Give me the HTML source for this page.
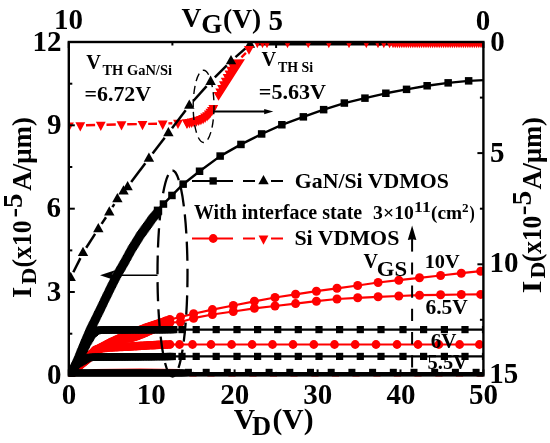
<!DOCTYPE html>
<html><head><meta charset="utf-8"><style>
html,body{margin:0;padding:0;background:#fff;}
svg{display:block;}
</style></head><body>
<svg width="550" height="443" viewBox="0 0 550 443">
<rect width="550" height="443" fill="#fff"/>
<defs><clipPath id="pc"><rect x="68.8" y="42.0" width="414.59999999999997" height="334.4"/></clipPath></defs>
<g clip-path="url(#pc)">
<line x1="86.0" y1="125.3" x2="95.1" y2="125.0" stroke="#f00" stroke-width="2.4"/>
<line x1="106.5" y1="124.8" x2="115.8" y2="124.5" stroke="#f00" stroke-width="2.4"/>
<line x1="127.2" y1="124.3" x2="136.8" y2="124.1" stroke="#f00" stroke-width="2.4"/>
<line x1="148.2" y1="123.9" x2="157.0" y2="123.8" stroke="#f00" stroke-width="2.4"/>
<line x1="168.4" y1="123.4" x2="172.3" y2="123.2" stroke="#f00" stroke-width="2.4"/>
<polygon points="64.1,122.5 73.9,122.5 69.0,131.8" fill="#f00"/>
<polygon points="75.4,122.3 85.2,122.3 80.3,131.6" fill="#f00"/>
<polygon points="95.9,121.8 105.7,121.8 100.8,131.1" fill="#f00"/>
<polygon points="116.6,121.3 126.4,121.3 121.5,130.6" fill="#f00"/>
<polygon points="137.6,120.9 147.4,120.9 142.5,130.2" fill="#f00"/>
<polygon points="157.8,120.6 167.6,120.6 162.7,129.9" fill="#f00"/>
<polygon points="173.1,119.8 182.9,119.8 178.0,129.1" fill="#f00"/>
<polygon points="182.1,119.5 191.9,119.5 187.0,128.8" fill="#f00"/>
<polygon points="182.1,119.5 191.9,119.5 187.0,128.8" fill="#f00"/>
<polygon points="184.5,119.1 194.3,119.1 189.4,128.4" fill="#f00"/>
<polygon points="186.8,118.6 196.6,118.6 191.7,127.9" fill="#f00"/>
<polygon points="189.2,118.1 199.0,118.1 194.1,127.4" fill="#f00"/>
<polygon points="191.5,117.4 201.3,117.4 196.4,126.7" fill="#f00"/>
<polygon points="193.8,116.7 203.6,116.7 198.7,126.0" fill="#f00"/>
<polygon points="196.0,115.9 205.8,115.9 200.9,125.2" fill="#f00"/>
<polygon points="198.2,114.9 208.0,114.9 203.1,124.2" fill="#f00"/>
<polygon points="200.2,113.6 210.0,113.6 205.1,122.9" fill="#f00"/>
<polygon points="202.2,112.3 212.0,112.3 207.1,121.6" fill="#f00"/>
<polygon points="203.9,110.6 213.7,110.6 208.8,119.9" fill="#f00"/>
<polygon points="205.5,108.8 215.3,108.8 210.4,118.1" fill="#f00"/>
<polygon points="207.0,106.9 216.8,106.9 211.9,116.2" fill="#f00"/>
<polygon points="208.4,105.0 218.2,105.0 213.3,114.3" fill="#f00"/>
<polygon points="245.0,59.2 218.5,100.8 213.5,92.1 217.2,92.1 215.3,88.5 219.1,88.5 217.2,84.9 220.9,84.9 219.0,81.3 222.7,81.3 220.8,77.7 224.6,77.7 222.7,74.0 226.4,74.0 224.5,70.4 228.2,70.4 226.3,66.8 230.1,66.8 228.2,63.2 231.9,63.2 230.0,59.6" fill="#f00"/>
<line x1="63.2" y1="289.9" x2="67.5" y2="282.8" stroke="#000" stroke-width="2.5"/>
<line x1="73.3" y1="272.3" x2="80.4" y2="258.1" stroke="#000" stroke-width="2.5"/>
<line x1="86.2" y1="247.7" x2="95.1" y2="233.9" stroke="#000" stroke-width="2.5"/>
<line x1="101.6" y1="223.9" x2="106.0" y2="217.2" stroke="#000" stroke-width="2.5"/>
<line x1="112.4" y1="207.1" x2="114.3" y2="204.1" stroke="#000" stroke-width="2.5"/>
<line x1="131.2" y1="182.1" x2="145.3" y2="163.2" stroke="#000" stroke-width="2.5"/>
<line x1="152.6" y1="153.6" x2="164.7" y2="137.8" stroke="#000" stroke-width="2.5"/>
<line x1="172.0" y1="128.2" x2="185.7" y2="110.3" stroke="#000" stroke-width="2.5"/>
<line x1="193.3" y1="101.0" x2="206.6" y2="86.1" stroke="#000" stroke-width="2.5"/>
<line x1="214.8" y1="77.3" x2="226.8" y2="65.3" stroke="#000" stroke-width="2.5"/>
<line x1="235.5" y1="57.1" x2="245.5" y2="48.4" stroke="#000" stroke-width="2.5"/>
<line x1="256" y1="44.2" x2="490" y2="44.2" stroke="#000" stroke-width="2.7"/>
<polygon points="65.5,281.0 75.9,281.0 70.7,271.7" fill="#000"/>
<polygon points="77.8,256.0 88.2,256.0 83.0,246.7" fill="#000"/>
<polygon points="93.1,232.2 103.5,232.2 98.3,222.9" fill="#000"/>
<polygon points="104.1,215.5 114.5,215.5 109.3,206.2" fill="#000"/>
<polygon points="112.2,202.3 122.6,202.3 117.4,193.0" fill="#000"/>
<polygon points="118.3,194.6 128.7,194.6 123.5,185.3" fill="#000"/>
<polygon points="122.4,190.2 132.8,190.2 127.6,180.9" fill="#000"/>
<polygon points="143.7,161.7 154.1,161.7 148.9,152.4" fill="#000"/>
<polygon points="163.2,136.3 173.6,136.3 168.4,127.0" fill="#000"/>
<polygon points="184.1,108.8 194.5,108.8 189.3,99.5" fill="#000"/>
<polygon points="205.4,84.9 215.8,84.9 210.6,75.6" fill="#000"/>
<polygon points="225.8,64.3 236.2,64.3 231.0,55.0" fill="#000"/>
<polygon points="244.8,47.8 255.2,47.8 250.0,38.5" fill="#000"/>
<polygon points="252.6,38.9 262.0,38.9 257.3,48.2" fill="#f00"/>
<polygon points="257.8,38.9 267.2,38.9 262.5,48.2" fill="#f00"/>
<polygon points="262.3,38.9 271.7,38.9 267.0,48.2" fill="#f00"/>
<polygon points="282.8,38.9 292.2,38.9 287.5,48.2" fill="#f00"/>
<polygon points="303.5,38.9 312.9,38.9 308.2,48.2" fill="#f00"/>
<polygon points="324.1,38.9 333.5,38.9 328.8,48.2" fill="#f00"/>
<polygon points="344.3,38.9 353.7,38.9 349.0,48.2" fill="#f00"/>
<polygon points="361.6,38.9 371.0,38.9 366.3,48.2" fill="#f00"/>
<polygon points="373.3,38.9 382.7,38.9 378.0,48.2" fill="#f00"/>
<polygon points="379.1,38.9 388.5,38.9 383.8,48.2" fill="#f00"/>
<polygon points="384.9,38.9 394.3,38.9 389.6,48.2" fill="#f00"/>
<polygon points="388.3,38.9 397.7,38.9 393.0,48.2" fill="#f00"/>
<polygon points="390.5,38.9 399.9,38.9 395.2,48.2" fill="#f00"/>
<polygon points="392.7,38.9 402.1,38.9 397.4,48.2" fill="#f00"/>
<polygon points="394.9,38.9 404.3,38.9 399.6,48.2" fill="#f00"/>
<polygon points="397.1,38.9 406.5,38.9 401.8,48.2" fill="#f00"/>
<polygon points="399.3,38.9 408.7,38.9 404.0,48.2" fill="#f00"/>
<polygon points="401.5,38.9 410.9,38.9 406.2,48.2" fill="#f00"/>
<polygon points="403.7,38.9 413.1,38.9 408.4,48.2" fill="#f00"/>
<polygon points="405.9,38.9 415.3,38.9 410.6,48.2" fill="#f00"/>
<polygon points="408.1,38.9 417.5,38.9 412.8,48.2" fill="#f00"/>
<polygon points="410.3,38.9 419.7,38.9 415.0,48.2" fill="#f00"/>
<polygon points="412.5,38.9 421.9,38.9 417.2,48.2" fill="#f00"/>
<polygon points="414.7,38.9 424.1,38.9 419.4,48.2" fill="#f00"/>
<polygon points="416.9,38.9 426.3,38.9 421.6,48.2" fill="#f00"/>
<polygon points="419.1,38.9 428.5,38.9 423.8,48.2" fill="#f00"/>
<polygon points="421.3,38.9 430.7,38.9 426.0,48.2" fill="#f00"/>
<polygon points="423.5,38.9 432.9,38.9 428.2,48.2" fill="#f00"/>
<polygon points="425.7,38.9 435.1,38.9 430.4,48.2" fill="#f00"/>
<polygon points="427.9,38.9 437.3,38.9 432.6,48.2" fill="#f00"/>
<polygon points="430.1,38.9 439.5,38.9 434.8,48.2" fill="#f00"/>
<polygon points="432.3,38.9 441.7,38.9 437.0,48.2" fill="#f00"/>
<polygon points="434.5,38.9 443.9,38.9 439.2,48.2" fill="#f00"/>
<polygon points="436.7,38.9 446.1,38.9 441.4,48.2" fill="#f00"/>
<polygon points="438.9,38.9 448.3,38.9 443.6,48.2" fill="#f00"/>
<polygon points="441.1,38.9 450.5,38.9 445.8,48.2" fill="#f00"/>
<polygon points="443.3,38.9 452.7,38.9 448.0,48.2" fill="#f00"/>
<polygon points="445.5,38.9 454.9,38.9 450.2,48.2" fill="#f00"/>
<polygon points="447.7,38.9 457.1,38.9 452.4,48.2" fill="#f00"/>
<polygon points="449.9,38.9 459.3,38.9 454.6,48.2" fill="#f00"/>
<polygon points="452.1,38.9 461.5,38.9 456.8,48.2" fill="#f00"/>
<polygon points="454.3,38.9 463.7,38.9 459.0,48.2" fill="#f00"/>
<polygon points="456.5,38.9 465.9,38.9 461.2,48.2" fill="#f00"/>
<polygon points="458.7,38.9 468.1,38.9 463.4,48.2" fill="#f00"/>
<polygon points="460.9,38.9 470.3,38.9 465.6,48.2" fill="#f00"/>
<polygon points="463.1,38.9 472.5,38.9 467.8,48.2" fill="#f00"/>
<polygon points="465.3,38.9 474.7,38.9 470.0,48.2" fill="#f00"/>
<polygon points="467.5,38.9 476.9,38.9 472.2,48.2" fill="#f00"/>
<polygon points="469.7,38.9 479.1,38.9 474.4,48.2" fill="#f00"/>
<polygon points="471.9,38.9 481.3,38.9 476.6,48.2" fill="#f00"/>
<polygon points="474.1,38.9 483.5,38.9 478.8,48.2" fill="#f00"/>
<polygon points="476.3,38.9 485.7,38.9 481.0,48.2" fill="#f00"/>
<polygon points="478.5,38.9 487.9,38.9 483.2,48.2" fill="#f00"/>
<polygon points="480.7,38.9 490.1,38.9 485.4,48.2" fill="#f00"/>
<line x1="241.4" y1="57.4" x2="245.9" y2="52.8" stroke="#f00" stroke-width="2.4"/>
<polygon points="244.0,46.0 254.0,46.0 249.0,54.8" fill="#f00"/>
<rect x="66.8" y="372.4" width="7.2" height="7.2" fill="#000"/>
<rect x="67.4" y="371.1" width="7.2" height="7.2" fill="#000"/>
<rect x="67.9" y="369.8" width="7.2" height="7.2" fill="#000"/>
<rect x="68.5" y="368.6" width="7.2" height="7.2" fill="#000"/>
<rect x="69.1" y="367.3" width="7.2" height="7.2" fill="#000"/>
<rect x="69.7" y="366.0" width="7.2" height="7.2" fill="#000"/>
<rect x="70.2" y="364.7" width="7.2" height="7.2" fill="#000"/>
<rect x="70.8" y="363.5" width="7.2" height="7.2" fill="#000"/>
<rect x="71.4" y="362.2" width="7.2" height="7.2" fill="#000"/>
<rect x="72.0" y="360.9" width="7.2" height="7.2" fill="#000"/>
<rect x="72.5" y="359.6" width="7.2" height="7.2" fill="#000"/>
<rect x="73.1" y="358.4" width="7.2" height="7.2" fill="#000"/>
<rect x="73.7" y="357.1" width="7.2" height="7.2" fill="#000"/>
<rect x="74.2" y="355.8" width="7.2" height="7.2" fill="#000"/>
<rect x="74.8" y="354.5" width="7.2" height="7.2" fill="#000"/>
<rect x="75.3" y="353.2" width="7.2" height="7.2" fill="#000"/>
<rect x="75.8" y="351.9" width="7.2" height="7.2" fill="#000"/>
<rect x="76.3" y="350.6" width="7.2" height="7.2" fill="#000"/>
<rect x="76.8" y="349.3" width="7.2" height="7.2" fill="#000"/>
<rect x="77.4" y="348.0" width="7.2" height="7.2" fill="#000"/>
<rect x="77.9" y="346.7" width="7.2" height="7.2" fill="#000"/>
<rect x="78.4" y="345.4" width="7.2" height="7.2" fill="#000"/>
<rect x="79.0" y="344.1" width="7.2" height="7.2" fill="#000"/>
<rect x="79.5" y="342.8" width="7.2" height="7.2" fill="#000"/>
<rect x="80.0" y="341.5" width="7.2" height="7.2" fill="#000"/>
<rect x="80.6" y="340.2" width="7.2" height="7.2" fill="#000"/>
<rect x="81.1" y="338.9" width="7.2" height="7.2" fill="#000"/>
<rect x="81.7" y="337.7" width="7.2" height="7.2" fill="#000"/>
<rect x="82.2" y="336.4" width="7.2" height="7.2" fill="#000"/>
<rect x="82.8" y="335.1" width="7.2" height="7.2" fill="#000"/>
<rect x="83.3" y="333.8" width="7.2" height="7.2" fill="#000"/>
<rect x="83.9" y="332.5" width="7.2" height="7.2" fill="#000"/>
<rect x="84.4" y="331.2" width="7.2" height="7.2" fill="#000"/>
<rect x="85.0" y="329.9" width="7.2" height="7.2" fill="#000"/>
<rect x="85.5" y="328.6" width="7.2" height="7.2" fill="#000"/>
<rect x="86.1" y="327.4" width="7.2" height="7.2" fill="#000"/>
<rect x="86.7" y="326.1" width="7.2" height="7.2" fill="#000"/>
<rect x="87.3" y="324.8" width="7.2" height="7.2" fill="#000"/>
<rect x="87.9" y="323.6" width="7.2" height="7.2" fill="#000"/>
<rect x="88.5" y="322.3" width="7.2" height="7.2" fill="#000"/>
<rect x="89.2" y="321.1" width="7.2" height="7.2" fill="#000"/>
<rect x="89.8" y="319.8" width="7.2" height="7.2" fill="#000"/>
<rect x="90.4" y="318.6" width="7.2" height="7.2" fill="#000"/>
<rect x="91.0" y="317.3" width="7.2" height="7.2" fill="#000"/>
<rect x="91.7" y="316.1" width="7.2" height="7.2" fill="#000"/>
<rect x="92.3" y="314.8" width="7.2" height="7.2" fill="#000"/>
<rect x="92.9" y="313.5" width="7.2" height="7.2" fill="#000"/>
<rect x="93.5" y="312.3" width="7.2" height="7.2" fill="#000"/>
<rect x="94.1" y="311.0" width="7.2" height="7.2" fill="#000"/>
<rect x="94.7" y="309.8" width="7.2" height="7.2" fill="#000"/>
<rect x="95.3" y="308.5" width="7.2" height="7.2" fill="#000"/>
<rect x="96.0" y="307.3" width="7.2" height="7.2" fill="#000"/>
<rect x="96.6" y="306.0" width="7.2" height="7.2" fill="#000"/>
<rect x="97.2" y="304.7" width="7.2" height="7.2" fill="#000"/>
<rect x="97.8" y="303.5" width="7.2" height="7.2" fill="#000"/>
<rect x="98.4" y="302.2" width="7.2" height="7.2" fill="#000"/>
<rect x="99.0" y="301.0" width="7.2" height="7.2" fill="#000"/>
<rect x="99.6" y="299.7" width="7.2" height="7.2" fill="#000"/>
<rect x="100.2" y="298.4" width="7.2" height="7.2" fill="#000"/>
<rect x="100.8" y="297.2" width="7.2" height="7.2" fill="#000"/>
<rect x="101.4" y="295.9" width="7.2" height="7.2" fill="#000"/>
<rect x="102.0" y="294.6" width="7.2" height="7.2" fill="#000"/>
<rect x="102.6" y="293.4" width="7.2" height="7.2" fill="#000"/>
<rect x="103.3" y="292.1" width="7.2" height="7.2" fill="#000"/>
<rect x="103.9" y="290.9" width="7.2" height="7.2" fill="#000"/>
<rect x="104.5" y="289.6" width="7.2" height="7.2" fill="#000"/>
<rect x="105.1" y="288.3" width="7.2" height="7.2" fill="#000"/>
<rect x="105.7" y="287.1" width="7.2" height="7.2" fill="#000"/>
<rect x="106.3" y="285.8" width="7.2" height="7.2" fill="#000"/>
<rect x="106.9" y="284.6" width="7.2" height="7.2" fill="#000"/>
<rect x="107.5" y="283.3" width="7.2" height="7.2" fill="#000"/>
<rect x="108.2" y="282.1" width="7.2" height="7.2" fill="#000"/>
<rect x="108.8" y="280.8" width="7.2" height="7.2" fill="#000"/>
<rect x="109.4" y="279.6" width="7.2" height="7.2" fill="#000"/>
<rect x="110.0" y="278.3" width="7.2" height="7.2" fill="#000"/>
<rect x="110.7" y="277.1" width="7.2" height="7.2" fill="#000"/>
<rect x="111.3" y="275.8" width="7.2" height="7.2" fill="#000"/>
<rect x="111.9" y="274.5" width="7.2" height="7.2" fill="#000"/>
<rect x="112.6" y="273.3" width="7.2" height="7.2" fill="#000"/>
<rect x="113.2" y="272.1" width="7.2" height="7.2" fill="#000"/>
<rect x="113.9" y="270.8" width="7.2" height="7.2" fill="#000"/>
<rect x="114.6" y="269.6" width="7.2" height="7.2" fill="#000"/>
<rect x="115.3" y="268.4" width="7.2" height="7.2" fill="#000"/>
<rect x="116.0" y="267.2" width="7.2" height="7.2" fill="#000"/>
<rect x="116.7" y="266.0" width="7.2" height="7.2" fill="#000"/>
<rect x="117.4" y="264.8" width="7.2" height="7.2" fill="#000"/>
<rect x="118.1" y="263.6" width="7.2" height="7.2" fill="#000"/>
<rect x="118.8" y="262.4" width="7.2" height="7.2" fill="#000"/>
<rect x="119.5" y="261.1" width="7.2" height="7.2" fill="#000"/>
<rect x="120.2" y="259.9" width="7.2" height="7.2" fill="#000"/>
<rect x="120.9" y="258.7" width="7.2" height="7.2" fill="#000"/>
<rect x="121.6" y="257.5" width="7.2" height="7.2" fill="#000"/>
<rect x="122.3" y="256.3" width="7.2" height="7.2" fill="#000"/>
<rect x="122.9" y="255.0" width="7.2" height="7.2" fill="#000"/>
<rect x="123.6" y="253.8" width="7.2" height="7.2" fill="#000"/>
<rect x="124.3" y="252.6" width="7.2" height="7.2" fill="#000"/>
<rect x="124.9" y="251.3" width="7.2" height="7.2" fill="#000"/>
<rect x="125.6" y="250.1" width="7.2" height="7.2" fill="#000"/>
<rect x="126.3" y="248.9" width="7.2" height="7.2" fill="#000"/>
<rect x="126.9" y="247.7" width="7.2" height="7.2" fill="#000"/>
<rect x="127.6" y="246.4" width="7.2" height="7.2" fill="#000"/>
<rect x="128.3" y="245.2" width="7.2" height="7.2" fill="#000"/>
<rect x="129.1" y="244.0" width="7.2" height="7.2" fill="#000"/>
<rect x="129.8" y="242.8" width="7.2" height="7.2" fill="#000"/>
<rect x="130.5" y="241.7" width="7.2" height="7.2" fill="#000"/>
<rect x="131.3" y="240.5" width="7.2" height="7.2" fill="#000"/>
<rect x="132.0" y="239.3" width="7.2" height="7.2" fill="#000"/>
<rect x="132.8" y="238.1" width="7.2" height="7.2" fill="#000"/>
<rect x="133.5" y="236.9" width="7.2" height="7.2" fill="#000"/>
<rect x="134.2" y="235.7" width="7.2" height="7.2" fill="#000"/>
<rect x="135.0" y="234.5" width="7.2" height="7.2" fill="#000"/>
<rect x="135.7" y="233.3" width="7.2" height="7.2" fill="#000"/>
<rect x="136.4" y="232.1" width="7.2" height="7.2" fill="#000"/>
<rect x="137.2" y="231.0" width="7.2" height="7.2" fill="#000"/>
<rect x="138.0" y="229.8" width="7.2" height="7.2" fill="#000"/>
<rect x="138.9" y="228.7" width="7.2" height="7.2" fill="#000"/>
<rect x="139.7" y="227.6" width="7.2" height="7.2" fill="#000"/>
<rect x="140.5" y="226.4" width="7.2" height="7.2" fill="#000"/>
<rect x="141.3" y="225.3" width="7.2" height="7.2" fill="#000"/>
<rect x="142.1" y="224.2" width="7.2" height="7.2" fill="#000"/>
<rect x="143.0" y="223.0" width="7.2" height="7.2" fill="#000"/>
<rect x="143.8" y="221.9" width="7.2" height="7.2" fill="#000"/>
<rect x="144.6" y="220.8" width="7.2" height="7.2" fill="#000"/>
<rect x="145.4" y="219.6" width="7.2" height="7.2" fill="#000"/>
<rect x="146.2" y="218.5" width="7.2" height="7.2" fill="#000"/>
<rect x="147.0" y="217.3" width="7.2" height="7.2" fill="#000"/>
<rect x="147.8" y="216.2" width="7.2" height="7.2" fill="#000"/>
<rect x="148.6" y="215.1" width="7.2" height="7.2" fill="#000"/>
<rect x="149.5" y="214.0" width="7.2" height="7.2" fill="#000"/>
<rect x="150.4" y="212.9" width="7.2" height="7.2" fill="#000"/>
<rect x="151.4" y="211.8" width="7.2" height="7.2" fill="#000"/>
<rect x="152.3" y="210.8" width="7.2" height="7.2" fill="#000"/>
<rect x="153.2" y="209.7" width="7.2" height="7.2" fill="#000"/>
<rect x="154.1" y="208.6" width="7.2" height="7.2" fill="#000"/>
<rect x="155.0" y="207.6" width="7.2" height="7.2" fill="#000"/>
<polyline points="157.6,210.3 163.4,204.1 172.0,195.4 183.2,184.2 199.6,171.3 220.2,156.1 241.0,144.4 261.6,134.0 281.8,124.8 303.3,116.9 323.7,109.7 344.4,103.1 365.0,98.2 385.9,93.3 406.5,89.4 427.1,85.8 448.1,82.9 468.7,80.9 489.0,79.9" fill="none" stroke="#000" stroke-width="2.4" stroke-linejoin="round" />
<rect x="153.8" y="206.6" width="7.5" height="7.5" fill="#000"/>
<rect x="159.7" y="200.3" width="7.5" height="7.5" fill="#000"/>
<rect x="168.2" y="191.7" width="7.5" height="7.5" fill="#000"/>
<rect x="179.4" y="180.4" width="7.5" height="7.5" fill="#000"/>
<rect x="195.8" y="167.5" width="7.5" height="7.5" fill="#000"/>
<rect x="216.4" y="152.3" width="7.5" height="7.5" fill="#000"/>
<rect x="237.2" y="140.7" width="7.5" height="7.5" fill="#000"/>
<rect x="257.9" y="130.2" width="7.5" height="7.5" fill="#000"/>
<rect x="278.1" y="121.0" width="7.5" height="7.5" fill="#000"/>
<rect x="299.6" y="113.1" width="7.5" height="7.5" fill="#000"/>
<rect x="319.9" y="105.9" width="7.5" height="7.5" fill="#000"/>
<rect x="340.6" y="99.3" width="7.5" height="7.5" fill="#000"/>
<rect x="361.2" y="94.4" width="7.5" height="7.5" fill="#000"/>
<rect x="382.1" y="89.5" width="7.5" height="7.5" fill="#000"/>
<rect x="402.8" y="85.6" width="7.5" height="7.5" fill="#000"/>
<rect x="423.4" y="82.0" width="7.5" height="7.5" fill="#000"/>
<rect x="444.4" y="79.1" width="7.5" height="7.5" fill="#000"/>
<rect x="464.9" y="77.1" width="7.5" height="7.5" fill="#000"/>
<rect x="485.2" y="76.1" width="7.5" height="7.5" fill="#000"/>
<polyline points="70.0,376.0 80.0,364.5 95.0,350.7 110.0,342.5 120.0,338.0 131.0,335.0 141.5,329.3 156.0,324.3 169.8,319.5 180.5,317.0 193.6,313.7 212.4,309.6 233.3,305.5 254.4,301.3 275.0,297.5 295.6,294.3 316.4,291.2 337.0,288.3 357.7,285.5 378.1,282.5 398.8,280.2 419.5,277.8 440.6,275.5 461.3,273.2 480.7,271.2 490.0,270.2" fill="none" stroke="#f00" stroke-width="2.2" stroke-linejoin="round" />
<polyline points="70.0,376.0 80.0,365.0 95.0,351.5 110.0,343.5 120.0,339.5 134.0,337.3 145.0,333.0 156.0,328.0 169.8,322.7 180.5,322.0 193.6,318.2 212.4,314.5 233.3,311.5 254.4,308.3 275.0,306.0 295.6,303.6 316.4,301.2 337.0,299.0 357.7,297.8 378.1,296.8 398.8,296.0 419.5,295.2 440.6,294.8 461.3,294.5 480.7,294.4 490.0,294.4" fill="none" stroke="#f00" stroke-width="2.2" stroke-linejoin="round" />
<polyline points="70.0,376.0 75.0,369.6 80.0,365.4 88.8,358.2 95.0,350.0 100.0,348.5 110.0,347.5 130.0,346.5 146.0,345.5 160.0,344.8 170.0,344.5 490.0,344.5" fill="none" stroke="#f00" stroke-width="2.2" stroke-linejoin="round" />
<circle cx="70.0" cy="376.0" r="4.3" fill="#f00"/>
<circle cx="71.0" cy="374.8" r="4.3" fill="#f00"/>
<circle cx="72.1" cy="373.6" r="4.3" fill="#f00"/>
<circle cx="73.1" cy="372.4" r="4.3" fill="#f00"/>
<circle cx="74.2" cy="371.2" r="4.3" fill="#f00"/>
<circle cx="75.2" cy="370.0" r="4.3" fill="#f00"/>
<circle cx="76.3" cy="368.8" r="4.3" fill="#f00"/>
<circle cx="77.3" cy="367.5" r="4.3" fill="#f00"/>
<circle cx="78.4" cy="366.3" r="4.3" fill="#f00"/>
<circle cx="79.4" cy="365.1" r="4.3" fill="#f00"/>
<circle cx="80.6" cy="364.0" r="4.3" fill="#f00"/>
<circle cx="81.7" cy="362.9" r="4.3" fill="#f00"/>
<circle cx="82.9" cy="361.8" r="4.3" fill="#f00"/>
<circle cx="84.1" cy="360.7" r="4.3" fill="#f00"/>
<circle cx="85.3" cy="359.7" r="4.3" fill="#f00"/>
<circle cx="86.4" cy="358.6" r="4.3" fill="#f00"/>
<circle cx="87.6" cy="357.5" r="4.3" fill="#f00"/>
<circle cx="88.8" cy="356.4" r="4.3" fill="#f00"/>
<circle cx="90.0" cy="355.3" r="4.3" fill="#f00"/>
<circle cx="91.2" cy="354.2" r="4.3" fill="#f00"/>
<circle cx="92.3" cy="353.2" r="4.3" fill="#f00"/>
<circle cx="93.5" cy="352.1" r="4.3" fill="#f00"/>
<circle cx="94.7" cy="351.0" r="4.3" fill="#f00"/>
<circle cx="96.0" cy="350.1" r="4.3" fill="#f00"/>
<circle cx="97.4" cy="349.4" r="4.3" fill="#f00"/>
<circle cx="98.8" cy="348.6" r="4.3" fill="#f00"/>
<circle cx="100.2" cy="347.8" r="4.3" fill="#f00"/>
<circle cx="101.6" cy="347.1" r="4.3" fill="#f00"/>
<circle cx="103.1" cy="346.3" r="4.3" fill="#f00"/>
<circle cx="104.5" cy="345.5" r="4.3" fill="#f00"/>
<circle cx="105.9" cy="344.8" r="4.3" fill="#f00"/>
<circle cx="107.3" cy="344.0" r="4.3" fill="#f00"/>
<circle cx="108.7" cy="343.2" r="4.3" fill="#f00"/>
<circle cx="110.1" cy="342.5" r="4.3" fill="#f00"/>
<circle cx="111.5" cy="341.8" r="4.3" fill="#f00"/>
<circle cx="113.0" cy="341.2" r="4.3" fill="#f00"/>
<circle cx="114.5" cy="340.5" r="4.3" fill="#f00"/>
<circle cx="115.9" cy="339.8" r="4.3" fill="#f00"/>
<circle cx="117.4" cy="339.2" r="4.3" fill="#f00"/>
<circle cx="118.8" cy="338.5" r="4.3" fill="#f00"/>
<circle cx="120.3" cy="337.9" r="4.3" fill="#f00"/>
<circle cx="121.8" cy="337.5" r="4.3" fill="#f00"/>
<circle cx="123.4" cy="337.1" r="4.3" fill="#f00"/>
<circle cx="124.9" cy="336.7" r="4.3" fill="#f00"/>
<circle cx="126.5" cy="336.2" r="4.3" fill="#f00"/>
<circle cx="128.0" cy="335.8" r="4.3" fill="#f00"/>
<circle cx="129.6" cy="335.4" r="4.3" fill="#f00"/>
<circle cx="131.1" cy="334.9" r="4.3" fill="#f00"/>
<circle cx="132.5" cy="334.2" r="4.3" fill="#f00"/>
<circle cx="133.9" cy="333.4" r="4.3" fill="#f00"/>
<circle cx="135.3" cy="332.7" r="4.3" fill="#f00"/>
<circle cx="136.7" cy="331.9" r="4.3" fill="#f00"/>
<circle cx="138.1" cy="331.1" r="4.3" fill="#f00"/>
<circle cx="139.5" cy="330.4" r="4.3" fill="#f00"/>
<circle cx="140.9" cy="329.6" r="4.3" fill="#f00"/>
<circle cx="142.4" cy="329.0" r="4.3" fill="#f00"/>
<circle cx="143.9" cy="328.5" r="4.3" fill="#f00"/>
<circle cx="145.4" cy="327.9" r="4.3" fill="#f00"/>
<circle cx="147.0" cy="327.4" r="4.3" fill="#f00"/>
<circle cx="148.5" cy="326.9" r="4.3" fill="#f00"/>
<circle cx="150.0" cy="326.4" r="4.3" fill="#f00"/>
<circle cx="151.5" cy="325.9" r="4.3" fill="#f00"/>
<circle cx="153.0" cy="325.3" r="4.3" fill="#f00"/>
<circle cx="154.5" cy="324.8" r="4.3" fill="#f00"/>
<circle cx="156.0" cy="324.3" r="4.3" fill="#f00"/>
<circle cx="157.5" cy="323.8" r="4.3" fill="#f00"/>
<circle cx="159.1" cy="323.2" r="4.3" fill="#f00"/>
<circle cx="160.6" cy="322.7" r="4.3" fill="#f00"/>
<circle cx="162.1" cy="322.2" r="4.3" fill="#f00"/>
<circle cx="163.6" cy="321.7" r="4.3" fill="#f00"/>
<circle cx="165.1" cy="321.1" r="4.3" fill="#f00"/>
<circle cx="166.6" cy="320.6" r="4.3" fill="#f00"/>
<circle cx="70.0" cy="376.0" r="4.3" fill="#f00"/>
<circle cx="71.1" cy="374.8" r="4.3" fill="#f00"/>
<circle cx="72.2" cy="373.6" r="4.3" fill="#f00"/>
<circle cx="73.2" cy="372.4" r="4.3" fill="#f00"/>
<circle cx="74.3" cy="371.3" r="4.3" fill="#f00"/>
<circle cx="75.4" cy="370.1" r="4.3" fill="#f00"/>
<circle cx="76.5" cy="368.9" r="4.3" fill="#f00"/>
<circle cx="77.5" cy="367.7" r="4.3" fill="#f00"/>
<circle cx="78.6" cy="366.5" r="4.3" fill="#f00"/>
<circle cx="79.7" cy="365.3" r="4.3" fill="#f00"/>
<circle cx="80.8" cy="364.2" r="4.3" fill="#f00"/>
<circle cx="82.0" cy="363.2" r="4.3" fill="#f00"/>
<circle cx="83.2" cy="362.1" r="4.3" fill="#f00"/>
<circle cx="84.4" cy="361.0" r="4.3" fill="#f00"/>
<circle cx="85.6" cy="360.0" r="4.3" fill="#f00"/>
<circle cx="86.8" cy="358.9" r="4.3" fill="#f00"/>
<circle cx="88.0" cy="357.8" r="4.3" fill="#f00"/>
<circle cx="89.2" cy="356.7" r="4.3" fill="#f00"/>
<circle cx="90.4" cy="355.7" r="4.3" fill="#f00"/>
<circle cx="91.5" cy="354.6" r="4.3" fill="#f00"/>
<circle cx="92.7" cy="353.5" r="4.3" fill="#f00"/>
<circle cx="93.9" cy="352.5" r="4.3" fill="#f00"/>
<circle cx="95.1" cy="351.4" r="4.3" fill="#f00"/>
<circle cx="96.5" cy="350.7" r="4.3" fill="#f00"/>
<circle cx="98.0" cy="349.9" r="4.3" fill="#f00"/>
<circle cx="99.4" cy="349.2" r="4.3" fill="#f00"/>
<circle cx="100.8" cy="348.4" r="4.3" fill="#f00"/>
<circle cx="102.2" cy="347.7" r="4.3" fill="#f00"/>
<circle cx="103.6" cy="346.9" r="4.3" fill="#f00"/>
<circle cx="105.0" cy="346.2" r="4.3" fill="#f00"/>
<circle cx="106.4" cy="345.4" r="4.3" fill="#f00"/>
<circle cx="107.8" cy="344.7" r="4.3" fill="#f00"/>
<circle cx="109.3" cy="343.9" r="4.3" fill="#f00"/>
<circle cx="110.7" cy="343.2" r="4.3" fill="#f00"/>
<circle cx="112.2" cy="342.6" r="4.3" fill="#f00"/>
<circle cx="113.7" cy="342.0" r="4.3" fill="#f00"/>
<circle cx="115.2" cy="341.4" r="4.3" fill="#f00"/>
<circle cx="116.6" cy="340.8" r="4.3" fill="#f00"/>
<circle cx="118.1" cy="340.2" r="4.3" fill="#f00"/>
<circle cx="119.6" cy="339.7" r="4.3" fill="#f00"/>
<circle cx="121.2" cy="339.3" r="4.3" fill="#f00"/>
<circle cx="122.7" cy="339.1" r="4.3" fill="#f00"/>
<circle cx="124.3" cy="338.8" r="4.3" fill="#f00"/>
<circle cx="125.9" cy="338.6" r="4.3" fill="#f00"/>
<circle cx="127.5" cy="338.3" r="4.3" fill="#f00"/>
<circle cx="129.1" cy="338.1" r="4.3" fill="#f00"/>
<circle cx="130.7" cy="337.8" r="4.3" fill="#f00"/>
<circle cx="132.2" cy="337.6" r="4.3" fill="#f00"/>
<circle cx="133.8" cy="337.3" r="4.3" fill="#f00"/>
<circle cx="135.3" cy="336.8" r="4.3" fill="#f00"/>
<circle cx="136.8" cy="336.2" r="4.3" fill="#f00"/>
<circle cx="138.3" cy="335.6" r="4.3" fill="#f00"/>
<circle cx="139.8" cy="335.0" r="4.3" fill="#f00"/>
<circle cx="141.3" cy="334.5" r="4.3" fill="#f00"/>
<circle cx="142.8" cy="333.9" r="4.3" fill="#f00"/>
<circle cx="144.3" cy="333.3" r="4.3" fill="#f00"/>
<circle cx="145.7" cy="332.7" r="4.3" fill="#f00"/>
<circle cx="147.2" cy="332.0" r="4.3" fill="#f00"/>
<circle cx="148.6" cy="331.3" r="4.3" fill="#f00"/>
<circle cx="150.1" cy="330.7" r="4.3" fill="#f00"/>
<circle cx="151.6" cy="330.0" r="4.3" fill="#f00"/>
<circle cx="153.0" cy="329.4" r="4.3" fill="#f00"/>
<circle cx="154.5" cy="328.7" r="4.3" fill="#f00"/>
<circle cx="155.9" cy="328.0" r="4.3" fill="#f00"/>
<circle cx="157.4" cy="327.5" r="4.3" fill="#f00"/>
<circle cx="158.9" cy="326.9" r="4.3" fill="#f00"/>
<circle cx="160.4" cy="326.3" r="4.3" fill="#f00"/>
<circle cx="161.9" cy="325.7" r="4.3" fill="#f00"/>
<circle cx="163.4" cy="325.2" r="4.3" fill="#f00"/>
<circle cx="164.9" cy="324.6" r="4.3" fill="#f00"/>
<circle cx="166.4" cy="324.0" r="4.3" fill="#f00"/>
<circle cx="167.9" cy="323.4" r="4.3" fill="#f00"/>
<circle cx="70.0" cy="376.0" r="4.3" fill="#f00"/>
<circle cx="71.0" cy="374.7" r="4.3" fill="#f00"/>
<circle cx="72.0" cy="373.5" r="4.3" fill="#f00"/>
<circle cx="73.0" cy="372.2" r="4.3" fill="#f00"/>
<circle cx="73.9" cy="371.0" r="4.3" fill="#f00"/>
<circle cx="74.9" cy="369.7" r="4.3" fill="#f00"/>
<circle cx="76.1" cy="368.6" r="4.3" fill="#f00"/>
<circle cx="77.4" cy="367.6" r="4.3" fill="#f00"/>
<circle cx="78.6" cy="366.6" r="4.3" fill="#f00"/>
<circle cx="79.8" cy="365.6" r="4.3" fill="#f00"/>
<circle cx="81.0" cy="364.5" r="4.3" fill="#f00"/>
<circle cx="82.3" cy="363.5" r="4.3" fill="#f00"/>
<circle cx="83.5" cy="362.5" r="4.3" fill="#f00"/>
<circle cx="84.8" cy="361.5" r="4.3" fill="#f00"/>
<circle cx="86.0" cy="360.5" r="4.3" fill="#f00"/>
<circle cx="87.2" cy="359.5" r="4.3" fill="#f00"/>
<circle cx="88.5" cy="358.5" r="4.3" fill="#f00"/>
<circle cx="89.5" cy="357.3" r="4.3" fill="#f00"/>
<circle cx="90.5" cy="356.0" r="4.3" fill="#f00"/>
<circle cx="91.4" cy="354.7" r="4.3" fill="#f00"/>
<circle cx="92.4" cy="353.4" r="4.3" fill="#f00"/>
<circle cx="93.4" cy="352.2" r="4.3" fill="#f00"/>
<circle cx="94.3" cy="350.9" r="4.3" fill="#f00"/>
<circle cx="95.5" cy="349.9" r="4.3" fill="#f00"/>
<circle cx="97.0" cy="349.4" r="4.3" fill="#f00"/>
<circle cx="98.5" cy="348.9" r="4.3" fill="#f00"/>
<circle cx="100.1" cy="348.5" r="4.3" fill="#f00"/>
<circle cx="101.7" cy="348.3" r="4.3" fill="#f00"/>
<circle cx="103.3" cy="348.2" r="4.3" fill="#f00"/>
<circle cx="104.9" cy="348.0" r="4.3" fill="#f00"/>
<circle cx="106.4" cy="347.9" r="4.3" fill="#f00"/>
<circle cx="108.0" cy="347.7" r="4.3" fill="#f00"/>
<circle cx="109.6" cy="347.5" r="4.3" fill="#f00"/>
<circle cx="111.2" cy="347.4" r="4.3" fill="#f00"/>
<circle cx="112.8" cy="347.4" r="4.3" fill="#f00"/>
<circle cx="114.4" cy="347.3" r="4.3" fill="#f00"/>
<circle cx="116.0" cy="347.2" r="4.3" fill="#f00"/>
<circle cx="117.6" cy="347.1" r="4.3" fill="#f00"/>
<circle cx="119.2" cy="347.0" r="4.3" fill="#f00"/>
<circle cx="120.8" cy="347.0" r="4.3" fill="#f00"/>
<circle cx="122.4" cy="346.9" r="4.3" fill="#f00"/>
<circle cx="124.0" cy="346.8" r="4.3" fill="#f00"/>
<circle cx="125.6" cy="346.7" r="4.3" fill="#f00"/>
<circle cx="127.2" cy="346.6" r="4.3" fill="#f00"/>
<circle cx="128.8" cy="346.6" r="4.3" fill="#f00"/>
<circle cx="130.4" cy="346.5" r="4.3" fill="#f00"/>
<circle cx="132.0" cy="346.4" r="4.3" fill="#f00"/>
<circle cx="133.6" cy="346.3" r="4.3" fill="#f00"/>
<circle cx="135.2" cy="346.2" r="4.3" fill="#f00"/>
<circle cx="136.8" cy="346.1" r="4.3" fill="#f00"/>
<circle cx="138.4" cy="346.0" r="4.3" fill="#f00"/>
<circle cx="140.0" cy="345.9" r="4.3" fill="#f00"/>
<circle cx="141.6" cy="345.8" r="4.3" fill="#f00"/>
<circle cx="143.2" cy="345.7" r="4.3" fill="#f00"/>
<circle cx="144.8" cy="345.6" r="4.3" fill="#f00"/>
<circle cx="146.4" cy="345.5" r="4.3" fill="#f00"/>
<circle cx="148.0" cy="345.4" r="4.3" fill="#f00"/>
<circle cx="149.6" cy="345.3" r="4.3" fill="#f00"/>
<circle cx="151.2" cy="345.2" r="4.3" fill="#f00"/>
<circle cx="152.8" cy="345.2" r="4.3" fill="#f00"/>
<circle cx="154.4" cy="345.1" r="4.3" fill="#f00"/>
<circle cx="156.0" cy="345.0" r="4.3" fill="#f00"/>
<circle cx="157.6" cy="344.9" r="4.3" fill="#f00"/>
<circle cx="159.2" cy="344.8" r="4.3" fill="#f00"/>
<circle cx="160.8" cy="344.8" r="4.3" fill="#f00"/>
<circle cx="162.4" cy="344.7" r="4.3" fill="#f00"/>
<circle cx="164.0" cy="344.7" r="4.3" fill="#f00"/>
<circle cx="165.6" cy="344.6" r="4.3" fill="#f00"/>
<circle cx="167.2" cy="344.6" r="4.3" fill="#f00"/>
<circle cx="169.8" cy="319.5" r="4.5" fill="#f00"/>
<circle cx="180.5" cy="317.0" r="4.5" fill="#f00"/>
<circle cx="193.6" cy="313.7" r="4.5" fill="#f00"/>
<circle cx="212.4" cy="309.6" r="4.5" fill="#f00"/>
<circle cx="233.3" cy="305.5" r="4.5" fill="#f00"/>
<circle cx="254.4" cy="301.3" r="4.5" fill="#f00"/>
<circle cx="275.0" cy="297.5" r="4.5" fill="#f00"/>
<circle cx="295.6" cy="294.3" r="4.5" fill="#f00"/>
<circle cx="316.4" cy="291.2" r="4.5" fill="#f00"/>
<circle cx="337.0" cy="288.3" r="4.5" fill="#f00"/>
<circle cx="357.7" cy="285.5" r="4.5" fill="#f00"/>
<circle cx="378.1" cy="282.5" r="4.5" fill="#f00"/>
<circle cx="398.8" cy="280.2" r="4.5" fill="#f00"/>
<circle cx="419.5" cy="277.8" r="4.5" fill="#f00"/>
<circle cx="440.6" cy="275.5" r="4.5" fill="#f00"/>
<circle cx="461.3" cy="273.2" r="4.5" fill="#f00"/>
<circle cx="480.7" cy="271.2" r="4.5" fill="#f00"/>
<circle cx="169.8" cy="322.7" r="4.5" fill="#f00"/>
<circle cx="180.5" cy="322.0" r="4.5" fill="#f00"/>
<circle cx="193.6" cy="318.2" r="4.5" fill="#f00"/>
<circle cx="212.4" cy="314.5" r="4.5" fill="#f00"/>
<circle cx="233.3" cy="311.5" r="4.5" fill="#f00"/>
<circle cx="254.4" cy="308.3" r="4.5" fill="#f00"/>
<circle cx="275.0" cy="306.0" r="4.5" fill="#f00"/>
<circle cx="295.6" cy="303.6" r="4.5" fill="#f00"/>
<circle cx="316.4" cy="301.2" r="4.5" fill="#f00"/>
<circle cx="337.0" cy="299.0" r="4.5" fill="#f00"/>
<circle cx="357.7" cy="297.8" r="4.5" fill="#f00"/>
<circle cx="378.1" cy="296.8" r="4.5" fill="#f00"/>
<circle cx="398.8" cy="296.0" r="4.5" fill="#f00"/>
<circle cx="419.5" cy="295.2" r="4.5" fill="#f00"/>
<circle cx="440.6" cy="294.8" r="4.5" fill="#f00"/>
<circle cx="461.3" cy="294.5" r="4.5" fill="#f00"/>
<circle cx="480.7" cy="294.4" r="4.5" fill="#f00"/>
<circle cx="170.0" cy="344.5" r="4.4" fill="#f00"/>
<circle cx="179.5" cy="344.5" r="4.4" fill="#f00"/>
<circle cx="192.5" cy="344.5" r="4.4" fill="#f00"/>
<circle cx="211.0" cy="344.5" r="4.4" fill="#f00"/>
<circle cx="231.6" cy="344.5" r="4.4" fill="#f00"/>
<circle cx="252.1" cy="344.5" r="4.4" fill="#f00"/>
<circle cx="272.5" cy="344.5" r="4.4" fill="#f00"/>
<circle cx="293.0" cy="344.5" r="4.4" fill="#f00"/>
<circle cx="313.8" cy="344.5" r="4.4" fill="#f00"/>
<circle cx="334.5" cy="344.5" r="4.4" fill="#f00"/>
<circle cx="355.2" cy="344.5" r="4.4" fill="#f00"/>
<circle cx="376.0" cy="344.5" r="4.4" fill="#f00"/>
<circle cx="397.0" cy="344.5" r="4.4" fill="#f00"/>
<circle cx="418.0" cy="344.5" r="4.4" fill="#f00"/>
<circle cx="438.8" cy="344.5" r="4.4" fill="#f00"/>
<circle cx="459.6" cy="344.5" r="4.4" fill="#f00"/>
<circle cx="479.4" cy="344.5" r="4.4" fill="#f00"/>
<polyline points="85.0,371.0 95.0,369.5 140.0,369.0 180.0,369.5" fill="none" stroke="#f00" stroke-width="1.2" stroke-linejoin="round" />
<circle cx="193.0" cy="376.5" r="3.6" fill="#f00"/>
<circle cx="211.0" cy="376.5" r="3.6" fill="#f00"/>
<circle cx="232.0" cy="376.5" r="3.6" fill="#f00"/>
<circle cx="253.0" cy="376.5" r="3.6" fill="#f00"/>
<circle cx="273.5" cy="376.5" r="3.6" fill="#f00"/>
<circle cx="294.0" cy="376.5" r="3.6" fill="#f00"/>
<circle cx="315.0" cy="376.5" r="3.6" fill="#f00"/>
<circle cx="335.5" cy="376.5" r="3.6" fill="#f00"/>
<circle cx="356.0" cy="376.5" r="3.6" fill="#f00"/>
<circle cx="377.0" cy="376.5" r="3.6" fill="#f00"/>
<circle cx="397.5" cy="376.5" r="3.6" fill="#f00"/>
<circle cx="418.0" cy="376.5" r="3.6" fill="#f00"/>
<circle cx="439.0" cy="376.5" r="3.6" fill="#f00"/>
<circle cx="459.5" cy="376.5" r="3.6" fill="#f00"/>
<circle cx="480.0" cy="376.5" r="3.6" fill="#f00"/>
<polyline points="96.0,329.6 490.0,329.6" fill="none" stroke="#000" stroke-width="2.2" stroke-linejoin="round" />
<rect x="67.4" y="370.4" width="7.2" height="7.2" fill="#000"/>
<rect x="68.2" y="369.0" width="7.2" height="7.2" fill="#000"/>
<rect x="68.9" y="367.6" width="7.2" height="7.2" fill="#000"/>
<rect x="69.7" y="366.2" width="7.2" height="7.2" fill="#000"/>
<rect x="70.5" y="364.8" width="7.2" height="7.2" fill="#000"/>
<rect x="71.3" y="363.4" width="7.2" height="7.2" fill="#000"/>
<rect x="72.0" y="362.0" width="7.2" height="7.2" fill="#000"/>
<rect x="72.8" y="360.6" width="7.2" height="7.2" fill="#000"/>
<rect x="73.5" y="359.2" width="7.2" height="7.2" fill="#000"/>
<rect x="74.2" y="357.7" width="7.2" height="7.2" fill="#000"/>
<rect x="75.0" y="356.3" width="7.2" height="7.2" fill="#000"/>
<rect x="75.7" y="354.9" width="7.2" height="7.2" fill="#000"/>
<rect x="76.4" y="353.4" width="7.2" height="7.2" fill="#000"/>
<rect x="77.1" y="352.0" width="7.2" height="7.2" fill="#000"/>
<rect x="77.8" y="350.6" width="7.2" height="7.2" fill="#000"/>
<rect x="78.5" y="349.1" width="7.2" height="7.2" fill="#000"/>
<rect x="79.2" y="347.7" width="7.2" height="7.2" fill="#000"/>
<rect x="80.0" y="346.3" width="7.2" height="7.2" fill="#000"/>
<rect x="80.7" y="344.8" width="7.2" height="7.2" fill="#000"/>
<rect x="81.4" y="343.4" width="7.2" height="7.2" fill="#000"/>
<rect x="82.1" y="342.0" width="7.2" height="7.2" fill="#000"/>
<rect x="82.8" y="340.6" width="7.2" height="7.2" fill="#000"/>
<rect x="83.5" y="339.1" width="7.2" height="7.2" fill="#000"/>
<rect x="84.3" y="337.7" width="7.2" height="7.2" fill="#000"/>
<rect x="85.1" y="336.4" width="7.2" height="7.2" fill="#000"/>
<rect x="86.0" y="335.0" width="7.2" height="7.2" fill="#000"/>
<rect x="86.8" y="333.6" width="7.2" height="7.2" fill="#000"/>
<rect x="87.6" y="332.2" width="7.2" height="7.2" fill="#000"/>
<rect x="88.4" y="330.9" width="7.2" height="7.2" fill="#000"/>
<rect x="89.6" y="329.8" width="7.2" height="7.2" fill="#000"/>
<rect x="90.8" y="328.8" width="7.2" height="7.2" fill="#000"/>
<rect x="92.0" y="327.7" width="7.2" height="7.2" fill="#000"/>
<rect x="93.5" y="327.1" width="7.2" height="7.2" fill="#000"/>
<rect x="95.0" y="326.7" width="7.2" height="7.2" fill="#000"/>
<rect x="96.6" y="326.4" width="7.2" height="7.2" fill="#000"/>
<rect x="98.2" y="326.4" width="7.2" height="7.2" fill="#000"/>
<rect x="99.8" y="326.4" width="7.2" height="7.2" fill="#000"/>
<rect x="101.4" y="326.4" width="7.2" height="7.2" fill="#000"/>
<rect x="103.0" y="326.4" width="7.2" height="7.2" fill="#000"/>
<rect x="104.6" y="326.4" width="7.2" height="7.2" fill="#000"/>
<rect x="106.2" y="326.3" width="7.2" height="7.2" fill="#000"/>
<rect x="107.8" y="326.3" width="7.2" height="7.2" fill="#000"/>
<rect x="109.4" y="326.3" width="7.2" height="7.2" fill="#000"/>
<rect x="111.0" y="326.3" width="7.2" height="7.2" fill="#000"/>
<rect x="112.6" y="326.3" width="7.2" height="7.2" fill="#000"/>
<rect x="114.2" y="326.3" width="7.2" height="7.2" fill="#000"/>
<rect x="115.8" y="326.3" width="7.2" height="7.2" fill="#000"/>
<rect x="117.4" y="326.3" width="7.2" height="7.2" fill="#000"/>
<rect x="119.0" y="326.3" width="7.2" height="7.2" fill="#000"/>
<rect x="120.6" y="326.3" width="7.2" height="7.2" fill="#000"/>
<rect x="122.2" y="326.3" width="7.2" height="7.2" fill="#000"/>
<rect x="123.8" y="326.3" width="7.2" height="7.2" fill="#000"/>
<rect x="125.4" y="326.2" width="7.2" height="7.2" fill="#000"/>
<rect x="127.0" y="326.2" width="7.2" height="7.2" fill="#000"/>
<rect x="128.6" y="326.2" width="7.2" height="7.2" fill="#000"/>
<rect x="130.2" y="326.2" width="7.2" height="7.2" fill="#000"/>
<rect x="131.8" y="326.2" width="7.2" height="7.2" fill="#000"/>
<rect x="133.4" y="326.2" width="7.2" height="7.2" fill="#000"/>
<rect x="135.0" y="326.2" width="7.2" height="7.2" fill="#000"/>
<rect x="136.6" y="326.2" width="7.2" height="7.2" fill="#000"/>
<rect x="138.2" y="326.2" width="7.2" height="7.2" fill="#000"/>
<rect x="139.8" y="326.2" width="7.2" height="7.2" fill="#000"/>
<rect x="141.4" y="326.2" width="7.2" height="7.2" fill="#000"/>
<rect x="143.0" y="326.1" width="7.2" height="7.2" fill="#000"/>
<rect x="144.6" y="326.1" width="7.2" height="7.2" fill="#000"/>
<rect x="146.2" y="326.1" width="7.2" height="7.2" fill="#000"/>
<rect x="147.8" y="326.1" width="7.2" height="7.2" fill="#000"/>
<rect x="149.4" y="326.1" width="7.2" height="7.2" fill="#000"/>
<rect x="151.0" y="326.1" width="7.2" height="7.2" fill="#000"/>
<rect x="152.6" y="326.1" width="7.2" height="7.2" fill="#000"/>
<rect x="154.2" y="326.1" width="7.2" height="7.2" fill="#000"/>
<rect x="155.8" y="326.1" width="7.2" height="7.2" fill="#000"/>
<rect x="157.4" y="326.1" width="7.2" height="7.2" fill="#000"/>
<rect x="159.0" y="326.1" width="7.2" height="7.2" fill="#000"/>
<rect x="160.6" y="326.1" width="7.2" height="7.2" fill="#000"/>
<rect x="162.2" y="326.0" width="7.2" height="7.2" fill="#000"/>
<rect x="163.8" y="326.0" width="7.2" height="7.2" fill="#000"/>
<rect x="165.4" y="326.0" width="7.2" height="7.2" fill="#000"/>
<rect x="167.0" y="326.0" width="7.2" height="7.2" fill="#000"/>
<rect x="168.6" y="326.0" width="7.2" height="7.2" fill="#000"/>
<rect x="170.2" y="326.0" width="7.2" height="7.2" fill="#000"/>
<rect x="178.4" y="326.0" width="7.2" height="7.2" fill="#000"/>
<rect x="192.6" y="326.0" width="7.2" height="7.2" fill="#000"/>
<rect x="212.6" y="326.0" width="7.2" height="7.2" fill="#000"/>
<rect x="233.4" y="326.0" width="7.2" height="7.2" fill="#000"/>
<rect x="254.0" y="326.0" width="7.2" height="7.2" fill="#000"/>
<rect x="274.1" y="326.0" width="7.2" height="7.2" fill="#000"/>
<rect x="294.7" y="326.0" width="7.2" height="7.2" fill="#000"/>
<rect x="315.4" y="326.0" width="7.2" height="7.2" fill="#000"/>
<rect x="336.0" y="326.0" width="7.2" height="7.2" fill="#000"/>
<rect x="356.7" y="326.0" width="7.2" height="7.2" fill="#000"/>
<rect x="377.4" y="326.0" width="7.2" height="7.2" fill="#000"/>
<rect x="399.4" y="326.0" width="7.2" height="7.2" fill="#000"/>
<rect x="420.0" y="326.0" width="7.2" height="7.2" fill="#000"/>
<rect x="440.8" y="326.0" width="7.2" height="7.2" fill="#000"/>
<rect x="461.4" y="326.0" width="7.2" height="7.2" fill="#000"/>
<rect x="481.9" y="326.0" width="7.2" height="7.2" fill="#000"/>
<polyline points="96.0,356.4 490.0,356.4" fill="none" stroke="#000" stroke-width="2.2" stroke-linejoin="round" />
<rect x="67.4" y="370.4" width="7.2" height="7.2" fill="#000"/>
<rect x="68.1" y="369.0" width="7.2" height="7.2" fill="#000"/>
<rect x="68.8" y="367.5" width="7.2" height="7.2" fill="#000"/>
<rect x="69.5" y="366.1" width="7.2" height="7.2" fill="#000"/>
<rect x="70.3" y="364.7" width="7.2" height="7.2" fill="#000"/>
<rect x="71.0" y="363.3" width="7.2" height="7.2" fill="#000"/>
<rect x="71.7" y="361.8" width="7.2" height="7.2" fill="#000"/>
<rect x="73.0" y="360.9" width="7.2" height="7.2" fill="#000"/>
<rect x="74.3" y="360.1" width="7.2" height="7.2" fill="#000"/>
<rect x="75.7" y="359.3" width="7.2" height="7.2" fill="#000"/>
<rect x="77.1" y="358.5" width="7.2" height="7.2" fill="#000"/>
<rect x="78.5" y="357.7" width="7.2" height="7.2" fill="#000"/>
<rect x="79.9" y="356.9" width="7.2" height="7.2" fill="#000"/>
<rect x="81.3" y="356.1" width="7.2" height="7.2" fill="#000"/>
<rect x="82.6" y="355.3" width="7.2" height="7.2" fill="#000"/>
<rect x="84.0" y="354.5" width="7.2" height="7.2" fill="#000"/>
<rect x="85.6" y="354.1" width="7.2" height="7.2" fill="#000"/>
<rect x="87.1" y="353.8" width="7.2" height="7.2" fill="#000"/>
<rect x="88.7" y="353.6" width="7.2" height="7.2" fill="#000"/>
<rect x="90.3" y="353.6" width="7.2" height="7.2" fill="#000"/>
<rect x="91.9" y="353.5" width="7.2" height="7.2" fill="#000"/>
<rect x="93.5" y="353.5" width="7.2" height="7.2" fill="#000"/>
<rect x="95.1" y="353.5" width="7.2" height="7.2" fill="#000"/>
<rect x="96.7" y="353.5" width="7.2" height="7.2" fill="#000"/>
<rect x="98.3" y="353.5" width="7.2" height="7.2" fill="#000"/>
<rect x="99.9" y="353.4" width="7.2" height="7.2" fill="#000"/>
<rect x="101.5" y="353.4" width="7.2" height="7.2" fill="#000"/>
<rect x="103.1" y="353.4" width="7.2" height="7.2" fill="#000"/>
<rect x="104.7" y="353.4" width="7.2" height="7.2" fill="#000"/>
<rect x="106.3" y="353.4" width="7.2" height="7.2" fill="#000"/>
<rect x="107.9" y="353.4" width="7.2" height="7.2" fill="#000"/>
<rect x="109.5" y="353.4" width="7.2" height="7.2" fill="#000"/>
<rect x="111.1" y="353.4" width="7.2" height="7.2" fill="#000"/>
<rect x="112.7" y="353.3" width="7.2" height="7.2" fill="#000"/>
<rect x="114.3" y="353.3" width="7.2" height="7.2" fill="#000"/>
<rect x="115.9" y="353.3" width="7.2" height="7.2" fill="#000"/>
<rect x="117.5" y="353.3" width="7.2" height="7.2" fill="#000"/>
<rect x="119.1" y="353.3" width="7.2" height="7.2" fill="#000"/>
<rect x="120.7" y="353.3" width="7.2" height="7.2" fill="#000"/>
<rect x="122.3" y="353.3" width="7.2" height="7.2" fill="#000"/>
<rect x="123.9" y="353.3" width="7.2" height="7.2" fill="#000"/>
<rect x="125.5" y="353.2" width="7.2" height="7.2" fill="#000"/>
<rect x="127.1" y="353.2" width="7.2" height="7.2" fill="#000"/>
<rect x="128.7" y="353.2" width="7.2" height="7.2" fill="#000"/>
<rect x="130.3" y="353.2" width="7.2" height="7.2" fill="#000"/>
<rect x="131.9" y="353.2" width="7.2" height="7.2" fill="#000"/>
<rect x="133.5" y="353.2" width="7.2" height="7.2" fill="#000"/>
<rect x="135.1" y="353.2" width="7.2" height="7.2" fill="#000"/>
<rect x="136.7" y="353.2" width="7.2" height="7.2" fill="#000"/>
<rect x="138.3" y="353.1" width="7.2" height="7.2" fill="#000"/>
<rect x="139.9" y="353.1" width="7.2" height="7.2" fill="#000"/>
<rect x="141.5" y="353.1" width="7.2" height="7.2" fill="#000"/>
<rect x="143.1" y="353.1" width="7.2" height="7.2" fill="#000"/>
<rect x="144.7" y="353.1" width="7.2" height="7.2" fill="#000"/>
<rect x="146.3" y="353.1" width="7.2" height="7.2" fill="#000"/>
<rect x="147.9" y="353.1" width="7.2" height="7.2" fill="#000"/>
<rect x="149.5" y="353.1" width="7.2" height="7.2" fill="#000"/>
<rect x="151.1" y="353.0" width="7.2" height="7.2" fill="#000"/>
<rect x="152.7" y="353.0" width="7.2" height="7.2" fill="#000"/>
<rect x="154.3" y="353.0" width="7.2" height="7.2" fill="#000"/>
<rect x="155.9" y="353.0" width="7.2" height="7.2" fill="#000"/>
<rect x="157.5" y="353.0" width="7.2" height="7.2" fill="#000"/>
<rect x="159.1" y="353.0" width="7.2" height="7.2" fill="#000"/>
<rect x="160.7" y="353.0" width="7.2" height="7.2" fill="#000"/>
<rect x="162.3" y="353.0" width="7.2" height="7.2" fill="#000"/>
<rect x="163.9" y="352.9" width="7.2" height="7.2" fill="#000"/>
<rect x="165.5" y="352.9" width="7.2" height="7.2" fill="#000"/>
<rect x="167.1" y="352.9" width="7.2" height="7.2" fill="#000"/>
<rect x="168.7" y="352.9" width="7.2" height="7.2" fill="#000"/>
<rect x="178.4" y="352.8" width="7.2" height="7.2" fill="#000"/>
<rect x="192.6" y="352.8" width="7.2" height="7.2" fill="#000"/>
<rect x="212.6" y="352.8" width="7.2" height="7.2" fill="#000"/>
<rect x="233.4" y="352.8" width="7.2" height="7.2" fill="#000"/>
<rect x="254.0" y="352.8" width="7.2" height="7.2" fill="#000"/>
<rect x="274.1" y="352.8" width="7.2" height="7.2" fill="#000"/>
<rect x="294.7" y="352.8" width="7.2" height="7.2" fill="#000"/>
<rect x="315.4" y="352.8" width="7.2" height="7.2" fill="#000"/>
<rect x="336.0" y="352.8" width="7.2" height="7.2" fill="#000"/>
<rect x="356.7" y="352.8" width="7.2" height="7.2" fill="#000"/>
<rect x="377.4" y="352.8" width="7.2" height="7.2" fill="#000"/>
<rect x="399.4" y="352.8" width="7.2" height="7.2" fill="#000"/>
<rect x="420.0" y="352.8" width="7.2" height="7.2" fill="#000"/>
<rect x="440.8" y="352.8" width="7.2" height="7.2" fill="#000"/>
<rect x="461.4" y="352.8" width="7.2" height="7.2" fill="#000"/>
<rect x="481.9" y="352.8" width="7.2" height="7.2" fill="#000"/>
<polyline points="69.0,373.5 490.0,373.5" fill="none" stroke="#000" stroke-width="3" stroke-linejoin="round" />
<rect x="66.5" y="369.5" width="7" height="7" fill="#000"/>
<rect x="68.5" y="369.5" width="7" height="7" fill="#000"/>
<rect x="70.5" y="369.5" width="7" height="7" fill="#000"/>
<rect x="72.5" y="369.5" width="7" height="7" fill="#000"/>
<rect x="74.5" y="369.5" width="7" height="7" fill="#000"/>
<rect x="76.5" y="369.5" width="7" height="7" fill="#000"/>
<rect x="78.5" y="369.5" width="7" height="7" fill="#000"/>
<rect x="80.5" y="369.5" width="7" height="7" fill="#000"/>
<rect x="82.5" y="369.5" width="7" height="7" fill="#000"/>
<rect x="84.5" y="369.5" width="7" height="7" fill="#000"/>
<rect x="86.5" y="369.5" width="7" height="7" fill="#000"/>
<rect x="88.5" y="369.5" width="7" height="7" fill="#000"/>
<rect x="90.5" y="369.5" width="7" height="7" fill="#000"/>
<rect x="92.5" y="369.5" width="7" height="7" fill="#000"/>
<rect x="94.5" y="369.5" width="7" height="7" fill="#000"/>
<rect x="96.5" y="369.5" width="7" height="7" fill="#000"/>
<rect x="98.5" y="369.5" width="7" height="7" fill="#000"/>
<rect x="100.5" y="369.5" width="7" height="7" fill="#000"/>
<rect x="102.5" y="369.5" width="7" height="7" fill="#000"/>
<rect x="104.5" y="369.5" width="7" height="7" fill="#000"/>
<rect x="106.5" y="369.5" width="7" height="7" fill="#000"/>
<rect x="108.5" y="369.5" width="7" height="7" fill="#000"/>
<rect x="110.5" y="369.5" width="7" height="7" fill="#000"/>
<rect x="112.5" y="369.5" width="7" height="7" fill="#000"/>
<rect x="114.5" y="369.5" width="7" height="7" fill="#000"/>
<rect x="116.5" y="369.5" width="7" height="7" fill="#000"/>
<rect x="118.5" y="369.5" width="7" height="7" fill="#000"/>
<rect x="120.5" y="369.5" width="7" height="7" fill="#000"/>
<rect x="122.5" y="369.5" width="7" height="7" fill="#000"/>
<rect x="124.5" y="369.5" width="7" height="7" fill="#000"/>
<rect x="126.5" y="369.5" width="7" height="7" fill="#000"/>
<rect x="128.5" y="369.5" width="7" height="7" fill="#000"/>
<rect x="130.5" y="369.5" width="7" height="7" fill="#000"/>
<rect x="132.5" y="369.5" width="7" height="7" fill="#000"/>
<rect x="134.5" y="369.5" width="7" height="7" fill="#000"/>
<rect x="136.5" y="369.5" width="7" height="7" fill="#000"/>
<rect x="138.5" y="369.5" width="7" height="7" fill="#000"/>
<rect x="140.5" y="369.5" width="7" height="7" fill="#000"/>
<rect x="142.5" y="369.5" width="7" height="7" fill="#000"/>
<rect x="144.5" y="369.5" width="7" height="7" fill="#000"/>
<rect x="146.5" y="369.5" width="7" height="7" fill="#000"/>
<rect x="148.5" y="369.5" width="7" height="7" fill="#000"/>
<rect x="150.5" y="369.5" width="7" height="7" fill="#000"/>
<rect x="152.5" y="369.5" width="7" height="7" fill="#000"/>
<rect x="154.5" y="369.5" width="7" height="7" fill="#000"/>
<rect x="156.5" y="369.5" width="7" height="7" fill="#000"/>
<rect x="158.5" y="369.5" width="7" height="7" fill="#000"/>
<rect x="160.5" y="369.5" width="7" height="7" fill="#000"/>
<rect x="162.5" y="369.5" width="7" height="7" fill="#000"/>
<rect x="164.5" y="369.5" width="7" height="7" fill="#000"/>
<rect x="166.5" y="369.5" width="7" height="7" fill="#000"/>
<rect x="168.5" y="369.5" width="7" height="7" fill="#000"/>
<rect x="170.5" y="369.5" width="7" height="7" fill="#000"/>
<rect x="172.5" y="369.5" width="7" height="7" fill="#000"/>
<rect x="174.5" y="369.5" width="7" height="7" fill="#000"/>
<rect x="176.5" y="369.5" width="7" height="7" fill="#000"/>
<rect x="178.5" y="369.5" width="7" height="7" fill="#000"/>
<rect x="180.5" y="369.5" width="7" height="7" fill="#000"/>
<rect x="184.9" y="368.8" width="7" height="7" fill="#000"/>
<rect x="202.7" y="368.8" width="7" height="7" fill="#000"/>
<rect x="223.8" y="368.8" width="7" height="7" fill="#000"/>
<rect x="244.9" y="368.8" width="7" height="7" fill="#000"/>
<rect x="265.6" y="368.8" width="7" height="7" fill="#000"/>
<rect x="286.3" y="368.8" width="7" height="7" fill="#000"/>
<rect x="307.0" y="368.8" width="7" height="7" fill="#000"/>
<rect x="327.7" y="368.8" width="7" height="7" fill="#000"/>
<rect x="348.4" y="368.8" width="7" height="7" fill="#000"/>
<rect x="369.1" y="368.8" width="7" height="7" fill="#000"/>
<rect x="389.8" y="368.8" width="7" height="7" fill="#000"/>
<rect x="410.5" y="368.8" width="7" height="7" fill="#000"/>
<rect x="431.2" y="368.8" width="7" height="7" fill="#000"/>
<rect x="451.9" y="368.8" width="7" height="7" fill="#000"/>
<rect x="472.6" y="368.8" width="7" height="7" fill="#000"/>
</g>
<ellipse cx="203.6" cy="106.4" rx="10.4" ry="36.1" fill="none" stroke="#000" stroke-width="1.4" stroke-dasharray="8,5"/>
<path d="M172.5,170.5 A15,103 0 0 1 172.5,376.5 A15,103 0 0 1 172.5,170.5" fill="none" stroke="#000" stroke-width="2.3" stroke-dasharray="19,8" stroke-dashoffset="34"/>
<line x1="213" y1="111.6" x2="266" y2="111.6" stroke="#000" stroke-width="2"/>
<polygon points="273.3,111.6 264.2,108.9 264.2,114.3" fill="#000"/>
<line x1="110" y1="275.2" x2="157.5" y2="275.2" stroke="#000" stroke-width="1.6"/>
<polygon points="100,275.2 115,270.2 111.5,275.2 115,280.2" fill="#000"/>
<line x1="412.1" y1="262.4" x2="412.1" y2="376" stroke="#000" stroke-width="2" stroke-dasharray="12.2,11"/>
<line x1="412.1" y1="238" x2="412.1" y2="251.6" stroke="#000" stroke-width="2"/>
<polygon points="412.1,225.4 407.8,240 412.1,239.2 416.4,240" fill="#000"/>
<rect x="68.8" y="42.0" width="414.6" height="333.4" fill="none" stroke="#000" stroke-width="2.4"/>
<line x1="68.8" y1="375.4" x2="74.8" y2="375.4" stroke="#000" stroke-width="2"/>
<line x1="68.8" y1="292.0" x2="74.8" y2="292.0" stroke="#000" stroke-width="2"/>
<line x1="68.8" y1="208.7" x2="74.8" y2="208.7" stroke="#000" stroke-width="2"/>
<line x1="68.8" y1="125.3" x2="74.8" y2="125.3" stroke="#000" stroke-width="2"/>
<line x1="68.8" y1="42.0" x2="74.8" y2="42.0" stroke="#000" stroke-width="2"/>
<line x1="68.8" y1="333.7" x2="72.3" y2="333.7" stroke="#000" stroke-width="2"/>
<line x1="68.8" y1="250.4" x2="72.3" y2="250.4" stroke="#000" stroke-width="2"/>
<line x1="68.8" y1="167.0" x2="72.3" y2="167.0" stroke="#000" stroke-width="2"/>
<line x1="68.8" y1="83.7" x2="72.3" y2="83.7" stroke="#000" stroke-width="2"/>
<line x1="68.8" y1="375.4" x2="68.8" y2="369.4" stroke="#000" stroke-width="2"/>
<line x1="151.7" y1="375.4" x2="151.7" y2="369.4" stroke="#000" stroke-width="2"/>
<line x1="234.6" y1="375.4" x2="234.6" y2="369.4" stroke="#000" stroke-width="2"/>
<line x1="317.6" y1="375.4" x2="317.6" y2="369.4" stroke="#000" stroke-width="2"/>
<line x1="400.5" y1="375.4" x2="400.5" y2="369.4" stroke="#000" stroke-width="2"/>
<line x1="483.4" y1="375.4" x2="483.4" y2="369.4" stroke="#000" stroke-width="2"/>
<line x1="110.3" y1="375.4" x2="110.3" y2="371.9" stroke="#000" stroke-width="2"/>
<line x1="193.2" y1="375.4" x2="193.2" y2="371.9" stroke="#000" stroke-width="2"/>
<line x1="276.1" y1="375.4" x2="276.1" y2="371.9" stroke="#000" stroke-width="2"/>
<line x1="359.0" y1="375.4" x2="359.0" y2="371.9" stroke="#000" stroke-width="2"/>
<line x1="441.9" y1="375.4" x2="441.9" y2="371.9" stroke="#000" stroke-width="2"/>
<line x1="68.8" y1="42.0" x2="68.8" y2="48.0" stroke="#000" stroke-width="2"/>
<line x1="276.1" y1="42.0" x2="276.1" y2="48.0" stroke="#000" stroke-width="2"/>
<line x1="483.4" y1="42.0" x2="483.4" y2="48.0" stroke="#000" stroke-width="2"/>
<line x1="172.4" y1="42.0" x2="172.4" y2="45.5" stroke="#000" stroke-width="2"/>
<line x1="379.8" y1="42.0" x2="379.8" y2="45.5" stroke="#000" stroke-width="2"/>
<line x1="483.4" y1="42.0" x2="477.4" y2="42.0" stroke="#000" stroke-width="2"/>
<line x1="483.4" y1="153.1" x2="477.4" y2="153.1" stroke="#000" stroke-width="2"/>
<line x1="483.4" y1="264.3" x2="477.4" y2="264.3" stroke="#000" stroke-width="2"/>
<line x1="483.4" y1="375.4" x2="477.4" y2="375.4" stroke="#000" stroke-width="2"/>
<line x1="483.4" y1="97.6" x2="479.9" y2="97.6" stroke="#000" stroke-width="2"/>
<line x1="483.4" y1="208.7" x2="479.9" y2="208.7" stroke="#000" stroke-width="2"/>
<line x1="483.4" y1="319.8" x2="479.9" y2="319.8" stroke="#000" stroke-width="2"/>
<g font-family="Liberation Serif, Times New Roman, serif" font-weight="bold" fill="#000">
<text x="46.91" y="384.10" font-size="29">0</text>
<text x="46.77" y="300.75" font-size="29">3</text>
<text x="46.62" y="217.40" font-size="29">6</text>
<text x="46.91" y="134.05" font-size="29">9</text>
<text x="32.56" y="50.70" font-size="29">12</text>
<text x="61.65" y="404.20" font-size="29">0</text>
<text x="136.67" y="404.20" font-size="29">10</text>
<text x="220.17" y="404.20" font-size="29">20</text>
<text x="303.16" y="404.20" font-size="29">30</text>
<text x="386.44" y="404.20" font-size="29">40</text>
<text x="468.93" y="404.20" font-size="29">50</text>
<text x="53.95" y="29.40" font-size="29">10</text>
<text x="268.58" y="29.60" font-size="29">5</text>
<text x="475.75" y="29.60" font-size="29">0</text>
<text x="490.29" y="50.60" font-size="29">0</text>
<text x="490.04" y="161.63" font-size="29">5</text>
<text x="489.58" y="272.27" font-size="29">10</text>
<text x="489.18" y="383.30" font-size="29">15</text>
<text x="181.53" y="27.20" font-size="27.5">V</text>
<text x="201.28" y="33.40" font-size="27">G</text>
<text x="223.10" y="28.20" font-size="27.5">(V)</text>
<text x="233.81" y="428.80" font-size="29.5">V</text>
<text x="251.90" y="434.60" font-size="26.5">D</text>
<text x="272.52" y="428.80" font-size="29.5">(V)</text>
<g transform="rotate(-90)">
<text x="-298.06" y="30.80" font-size="27" textLength="11.20" lengthAdjust="spacingAndGlyphs">I</text>
<text x="-284.45" y="35.50" font-size="22" textLength="16.85" lengthAdjust="spacingAndGlyphs">D</text>
<text x="-267.42" y="30.50" font-size="27" textLength="46.97" lengthAdjust="spacingAndGlyphs">(x10</text>
<text x="-217.61" y="22.10" font-size="27" textLength="24.06" lengthAdjust="spacingAndGlyphs">-5</text>
<text x="-190.73" y="30.50" font-size="27" textLength="73.59" lengthAdjust="spacingAndGlyphs">A/μm)</text>
</g>
<g transform="rotate(-90)">
<text x="-293.36" y="540.50" font-size="27" textLength="12.50" lengthAdjust="spacingAndGlyphs">I</text>
<text x="-278.55" y="545.30" font-size="22" textLength="16.85" lengthAdjust="spacingAndGlyphs">D</text>
<text x="-262.11" y="540.50" font-size="27" textLength="46.35" lengthAdjust="spacingAndGlyphs">(x10</text>
<text x="-215.33" y="531.00" font-size="27" textLength="24.50" lengthAdjust="spacingAndGlyphs">-5</text>
<text x="-189.53" y="540.50" font-size="27" textLength="72.37" lengthAdjust="spacingAndGlyphs">A/μm)</text>
</g>
<text x="86.20" y="69.10" font-size="20.3">V</text>
<text x="102.48" y="75.10" font-size="14.3" textLength="69.48" lengthAdjust="spacingAndGlyphs">TH GaN/Si</text>
<text x="84.52" y="101.20" font-size="21.4" textLength="66.54" lengthAdjust="spacingAndGlyphs">=6.72V</text>
<text x="261.60" y="66.00" font-size="20.3">V</text>
<text x="277.99" y="72.00" font-size="14.3" textLength="35.20" lengthAdjust="spacingAndGlyphs">TH Si</text>
<text x="258.81" y="98.60" font-size="21.6" textLength="67.25" lengthAdjust="spacingAndGlyphs">=5.63V</text>
<text x="294.82" y="188.00" font-size="21" textLength="153.97" lengthAdjust="spacingAndGlyphs">GaN/Si VDMOS</text>
<text x="193.90" y="219.30" font-size="20" textLength="168.27" lengthAdjust="spacingAndGlyphs">With interface state</text>
<text x="373.11" y="219.30" font-size="19.6" textLength="40.67" lengthAdjust="spacingAndGlyphs">3×10</text>
<text x="414.10" y="211.60" font-size="15" textLength="16.58" lengthAdjust="spacingAndGlyphs">11</text>
<text x="431.03" y="219.30" font-size="19.5" textLength="31.06" lengthAdjust="spacingAndGlyphs">(cm</text>
<text x="461.98" y="211.70" font-size="13" textLength="6.55" lengthAdjust="spacingAndGlyphs">2</text>
<text x="469.53" y="219.30" font-size="19.5" textLength="5.25" lengthAdjust="spacingAndGlyphs">)</text>
<text x="294.40" y="245.40" font-size="21" textLength="104.94" lengthAdjust="spacingAndGlyphs">Si VDMOS</text>
<text x="363.50" y="267.90" font-size="20">V</text>
<text x="376.88" y="275.50" font-size="21.5" textLength="30.31" lengthAdjust="spacingAndGlyphs">GS</text>
<text x="424.68" y="267.60" font-size="19.5" textLength="34.97" lengthAdjust="spacingAndGlyphs">10V</text>
<text x="425.46" y="314.20" font-size="20.5" textLength="42.40" lengthAdjust="spacingAndGlyphs">6.5V</text>
<text x="430.67" y="347.70" font-size="20.5" textLength="25.68" lengthAdjust="spacingAndGlyphs">6V</text>
<text x="427.58" y="368.80" font-size="20.5" textLength="40.26" lengthAdjust="spacingAndGlyphs">5.5V</text>
</g>
<line x1="192" y1="181" x2="233" y2="181" stroke="#000" stroke-width="2"/>
<rect x="209.5" y="177.3" width="7.3" height="7.3" fill="#000"/>
<line x1="243" y1="181" x2="284" y2="181" stroke="#000" stroke-width="2" stroke-dasharray="12,16"/>
<polygon points="258.3,184.3 268.7,184.3 263.5,175.0" fill="#000"/>
<line x1="192" y1="238.5" x2="233" y2="238.5" stroke="#f00" stroke-width="2"/>
<circle cx="213.2" cy="238.5" r="4.4" fill="#f00"/>
<line x1="243" y1="238.5" x2="284" y2="238.5" stroke="#f00" stroke-width="2" stroke-dasharray="12,16"/>
<polygon points="258.6,235.4 268.4,235.4 263.5,244.7" fill="#f00"/>
</svg>
</body></html>
